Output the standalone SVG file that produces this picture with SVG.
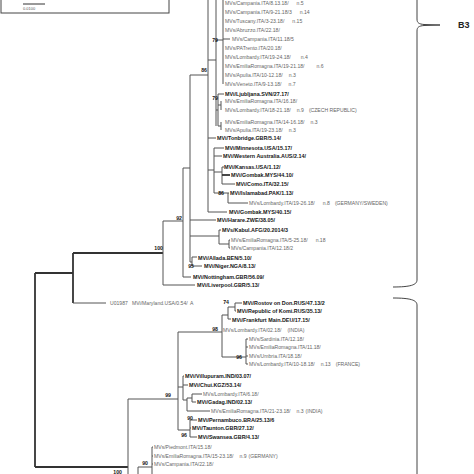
<svg xmlns="http://www.w3.org/2000/svg" width="474" height="474" viewBox="0 0 474 474">
<style>
.r{font-family:"Liberation Sans",Arial,sans-serif;font-size:5.1px;fill:#666}
.b{font-family:"Liberation Sans",Arial,sans-serif;font-size:5.4px;font-weight:bold;fill:#151515}
.bs{font-family:"Liberation Sans",Arial,sans-serif;font-size:5.2px;font-weight:bold;fill:#151515;text-anchor:end}
.ln{fill:none;stroke:#555;stroke-width:1}
.th{fill:none;stroke:#333;stroke-width:1.8}
</style>
<rect width="474" height="474" fill="#fff"/>
<g id="scalebox">
<rect x="1" y="-5" width="168" height="18" fill="none" stroke="#444" stroke-width="1"/>
<path d="M23 4 H45" stroke="#333" stroke-width="1"/>
<text x="23" y="9.5" style="font-family:'Liberation Sans',sans-serif;font-size:4px;fill:#555">0.0100</text>
</g>
<g id="connectors">
<path class="th" d="M35 273 V467 M35 273 H73 M73 253 V303 M73 253 H163"/>
<path class="ln" d="M73 303 H106 M163 221 V285 M163 285 H195 M163 221 H183 M183 168 V277 M183 277 H191 M183 168 H190 M190 75 V262 M190 262 H192 M192 257 V266 M192 257 H197 M192 266 H202 M190 75 H208 M208 0 V212 M208 212 H227 M190 220 H216 M190 236 H219 M219 230 V244 M219 230 H221 M219 244 H229 M229 240 V248 M229 240 H230 M229 248 H230"/>
<path class="ln" d="M216 0 V126 M208 60 H216 M223 0 V84 M216 40 H223 M223 39 H230 M216 110 H218 M218 94 V126 M218 94 H224 M218 105 H221 M221 101 V110 M218 126 H221 M221 122 V130 M208 138 H216"/>
<path class="ln" d="M208 170 H214 M214 148 V193 M214 148 H224 M214 156 H222 M214 172 H222 M222 167 V184 M222 167 H224 M222 184 H235 M214 193 H228 M228 193 V203 M228 193 H229 M228 203 H248"/>
<path class="th" d="M222 175 H230" stroke-width="1.4"/>
<path class="th" d="M35 467 H128"/>
<path class="ln" d="M128 399 V474 M128 399 H178 M178 332 V430 M178 332 H222 M222 315 V357 M222 315 H228 M228 307 V319 M228 319 H231 M228 307 H235 M235 303 V311 M235 303 H242 M235 311 H236 M222 357 H246 M246 339 V364 M246 339 H248 M246 347 H248 M246 356 H248 M246 364 H248"/>
<path class="ln" d="M178 387 H183 M183 376 V400 M183 376 H184 M183 385 H188 M183 400 H187 M187 398 V411 M187 398 H192 M192 394 V402 M192 394 H202 M192 402 H196 M187 411 H210 M178 430 H190 M190 420 V437 M190 420 H197 M190 428 H191 M190 437 H197 M138 467 V474 M138 467 H152 M152 447 V474 M152 447 H153 M152 456 H153 M152 464 H153"/>
<path d="M417 0 V19 C417 23 419 24 424 24.5 L440 25 L424 25.5 C419 26 417 27 417 31 V280 C417 285 410 287 393 287 M393 298 C410 298 417 300 417 305 V474" fill="none" stroke="#444" stroke-width="1"/>
</g>
<g id="support">
<text class="bs" x="218" y="41.5">79</text>
<text class="bs" x="207" y="72">86</text>
<text class="bs" x="218" y="100">79</text>
<text class="bs" x="224" y="195">86</text>
<text class="bs" x="182" y="219.5">92</text>
<text class="bs" x="163" y="250">100</text>
<text class="bs" x="194" y="268">95</text>
<text class="bs" x="229" y="304">74</text>
<text class="bs" x="218" y="331">98</text>
<text class="bs" x="242" y="359">96</text>
<text class="bs" x="171" y="397">99</text>
<text class="bs" x="193" y="420">90</text>
<text class="bs" x="187" y="437">96</text>
<text class="bs" x="148" y="465">90</text>
<text class="bs" x="122" y="473.5">100</text>
</g>
<g id="leaves">
<g id="n1"><text class="r" x="225" y="4.7">MVs/Campania.ITA/8.13.18/<tspan dx="8">n.5</tspan></text></g>
<g id="n2"><text class="r" x="225" y="13.7">MVs/Campania.ITA/9-21.18/3<tspan dx="8">n.14</tspan></text></g>
<g id="n3"><text class="r" x="225" y="22.7">MVs/Tuscany.ITA/3-23.18/<tspan dx="8">n.15</tspan></text></g>
<g id="n4"><text class="r" x="225" y="31.7">MVs/Abruzzo.ITA/22.18/</text></g>
<g id="n5"><text class="r" x="232" y="40.7">MVs/Campania.ITA/11.18/5</text></g>
<g id="n6"><text class="r" x="225" y="49.7">MVs/PATrento.ITA/20.18/</text></g>
<g id="n7"><text class="r" x="225" y="58.7">MVs/Lombardy.ITA/19-24.18/<tspan dx="10">n.4</tspan></text></g>
<g id="n8"><text class="r" x="225" y="67.7">MVs/EmiliaRomagna.ITA/19-21.18/<tspan dx="12">n.6</tspan></text></g>
<g id="n9"><text class="r" x="225" y="76.7">MVs/Apulia.ITA/10-12.18/<tspan dx="6">n.3</tspan></text></g>
<g id="n10"><text class="r" x="225" y="85.7">MVs/Veneto.ITA/9-13.18/<tspan dx="7">n.7</tspan></text></g>
<g id="n11"><text class="b" x="225" y="95.9">MVi/Ljubljana.SVN/27.17/</text></g>
<g id="n12"><text class="r" x="225" y="102.7">MVs/EmiliaRomagna.ITA/16.18/</text></g>
<g id="n13"><text class="r" x="225" y="111.7">MVs/Lombardy.ITA/18-21.18/<tspan dx="6">n.9</tspan><tspan dx="5">(CZECH REPUBLIC)</tspan></text></g>
<g id="n14"><text class="r" x="225" y="123.7">MVs/EmiliaRomagna.ITA/14-16.18/<tspan dx="6">n.3</tspan></text></g>
<g id="n15"><text class="r" x="225" y="131.7">MVs/Apulia.ITA/19-23.18/<tspan dx="6">n.3</tspan></text></g>
<g id="n16"><text class="b" x="217" y="139.9">MVi/Tonbridge.GBR/5.14/</text></g>
<g id="n17"><text class="b" x="225" y="149.9">MVi/Minnesota.USA/15.17/</text></g>
<g id="n18"><text class="b" x="223" y="157.9">MVi/Western Australia.AUS/2.14/</text></g>
<g id="n19"><text class="b" x="224" y="168.9">MVi/Kansas.USA/1.12/</text></g>
<g id="n20"><text class="b" x="231" y="176.9">MVi/Gombak.MYS/44.10/</text></g>
<g id="n21"><text class="b" x="236" y="185.9">MVi/Como.ITA/32.15/</text></g>
<g id="n22"><text class="b" x="230" y="194.9">MVi/Islamabad.PAK/1.13/</text></g>
<g id="n23"><text class="r" x="249" y="204.7">MVs/Lombardy.ITA/19-26.18/<tspan dx="8">n.8</tspan><tspan dx="5">(GERMANY/SWEDEN)</tspan></text></g>
<g id="n24"><text class="b" x="229" y="213.9">MVi/Gombak.MYS/40.15/</text></g>
<g id="n25"><text class="b" x="217" y="221.9">MVi/Harare.ZWE/38.05/</text></g>
<g id="n26"><text class="b" x="222" y="231.9">MVs/Kabul.AFG/20.2014/3</text></g>
<g id="n27"><text class="r" x="231" y="241.7">MVs/EmiliaRomagna.ITA/5-25.18/<tspan dx="8">n.18</tspan></text></g>
<g id="n28"><text class="r" x="231" y="249.7">MVs/Campania.ITA/12.18/2</text></g>
<g id="n29"><text class="b" x="198" y="259.9">MVi/Allada.BEN/5.10/</text></g>
<g id="n30"><text class="b" x="204" y="267.9">MVi/Niger.NGA/8.13/</text></g>
<g id="n31"><text class="b" x="193" y="278.9">MVi/Nottingham.GBR/56.09/</text></g>
<g id="n32"><text class="b" x="197" y="286.9">MVi/Liverpool.GBR/5.13/</text></g>
<g id="n33"><text class="r" x="110" y="304.7">U01987<tspan x="132">MVi/Maryland.USA/0.54/</tspan><tspan x="190">A</tspan></text></g>
<g id="n34"><text class="b" x="243" y="304.9">MVi/Rostov on Don.RUS/47.13/2</text></g>
<g id="n35"><text class="b" x="237" y="312.9">MVi/Republic of Komi.RUS/35.13/</text></g>
<g id="n36"><text class="b" x="232" y="321.9">MVi/Frankfurt Main.DEU/17.15/</text></g>
<g id="n37"><text class="r" x="223" y="331.7">MVs/Lombardy.ITA/02.18/<tspan dx="6">(INDIA)</tspan></text></g>
<g id="n38"><text class="r" x="249" y="340.7">MVs/Sardinia.ITA/12.18/</text></g>
<g id="n39"><text class="r" x="249" y="348.7">MVs/EmiliaRomagna.ITA/11.18/</text></g>
<g id="n40"><text class="r" x="249" y="357.7">MVs/Umbria.ITA/18.18/</text></g>
<g id="n41"><text class="r" x="249" y="365.7">MVs/Lombardy.ITA/10-18.18/<tspan dx="6">n.13</tspan><tspan dx="5">(FRANCE)</tspan></text></g>
<g id="n42"><text class="b" x="185" y="377.9">MVi/Villupuram.IND/03.07/</text></g>
<g id="n43"><text class="b" x="189" y="386.9">MVi/Chui.KGZ/53.14/</text></g>
<g id="n44"><text class="r" x="203" y="395.7">MVs/Lombardy.ITA/6.18/</text></g>
<g id="n45"><text class="b" x="197" y="403.9">MVi/Gadag.IND/02.13/</text></g>
<g id="n46"><text class="r" x="211" y="412.7">MVs/EmiliaRomagna.ITA/21-23.18/<tspan dx="6">n.3</tspan><tspan dx="2">(INDIA)</tspan></text></g>
<g id="n47"><text class="b" x="198" y="421.9">MVi/Pernambuco.BRA/25.13/6</text></g>
<g id="n48"><text class="b" x="192" y="429.9">MVi/Taunton.GBR/27.12/</text></g>
<g id="n49"><text class="b" x="198" y="438.9">MVi/Swansea.GBR/4.13/</text></g>
<g id="n50"><text class="r" x="154" y="448.7">MVs/Piedmont.ITA/15.18/</text></g>
<g id="n51"><text class="r" x="154" y="457.7">MVs/EmiliaRomagna.ITA/15-23.18/<tspan dx="6">n.9</tspan><tspan dx="2">(GERMANY)</tspan></text></g>
<g id="n52"><text class="r" x="154" y="465.7">MVs/Campania.ITA/22.18/</text></g>
</g>
<g id="clade"><text x="458" y="28" style="font-family:'Liberation Sans',sans-serif;font-size:9px;font-weight:bold;fill:#222">B3</text></g>
</svg>
